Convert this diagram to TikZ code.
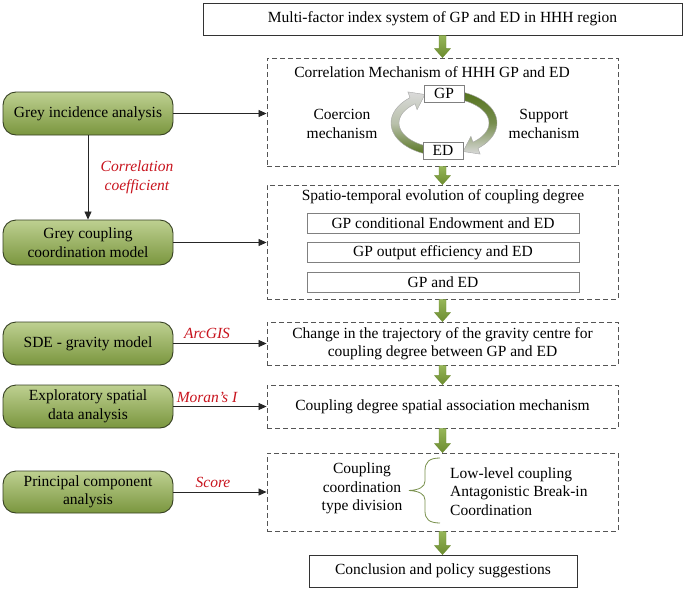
\documentclass[tikz,border=0pt]{standalone}
\usepackage{fontspec}
\setmainfont{Liberation Serif}
\usetikzlibrary{calc,arrows.meta}
\definecolor{gtop}{RGB}{190,208,145}
\definecolor{gbot}{RGB}{122,150,62}
\definecolor{gedge}{RGB}{55,65,35}
\definecolor{atop}{RGB}{150,182,88}
\definecolor{abot}{RGB}{108,140,48}
\definecolor{rdark}{RGB}{85,115,30}
\definecolor{rgrey}{RGB}{218,218,218}
\definecolor{lblred}{RGB}{200,20,30}
\definecolor{dashgray}{RGB}{85,85,85}
\newcommand\blockarr[2]{%
  \path[top color=atop, bottom color=abot, draw=abot, line width=0.4pt]
  let \p1=(#1.south), \p2=(#2.north) in
  (\x1-3.5pt,\y1) -- (\x1+3.5pt,\y1) -- (\x1+3.5pt,\y2+9pt) -- (\x1+8pt,\y2+9pt)
  -- (\x1,\y2) -- (\x1-8pt,\y2+9pt) -- (\x1-3.5pt,\y2+9pt) -- cycle;}
\begin{document}
\begin{tikzpicture}[x=1pt,y=-1pt,
  every node/.style={font=\fontsize{15.5}{18.5}\selectfont},
  gbox/.style={draw=gedge, line width=0.9pt, rounded corners=13pt,
    top color=gtop, bottom color=gbot, minimum width=170pt, align=center, inner sep=0pt},
  dbox/.style={draw=dashgray, line width=0.9pt, dash pattern=on 5pt off 3pt,
    minimum width=351pt, align=center, inner sep=0pt},
  sbox/.style={draw=black!80, line width=0.9pt, align=center, inner sep=0pt, fill=white},
  ibox/.style={draw=black!50, line width=0.7pt, minimum width=272pt, minimum height=20pt, inner sep=0pt, fill=white},
  lbl/.style={text=lblred, font=\fontsize{15.5}{18.5}\selectfont\itshape, align=center, inner sep=0pt},
  conn/.style={-{Triangle[length=8pt,width=7pt]}, line width=0.8pt, black!85}
]
\useasboundingbox (0,0) rectangle (685,589);

% top and bottom boxes
\node[sbox, minimum width=479pt, minimum height=32pt] (top) at (442.5,19) {Multi-factor index system of GP and ED in HHH region};
\node[sbox, minimum width=268pt, minimum height=32pt] (concl) at (443,571) {Conclusion and policy suggestions};

% dashed boxes
\node[dbox, minimum height=108pt] (b1) at (442.5,112) {};
\node[dbox, minimum height=114pt] (b2) at (442.5,242) {};
\node[dbox, minimum height=43pt] (b3) at (442.5,343.5) {Change in the trajectory of the gravity centre for\\coupling degree between GP and ED};
\node[dbox, minimum height=43pt] (b4) at (442.5,406.5) {Coupling degree spatial association mechanism};
\node[dbox, minimum height=78pt] (b5) at (442.5,492) {};

% box 1 content
\node[inner sep=0pt] (t1) at (432,72) {Correlation Mechanism of HHH GP and ED};
\node[align=center, inner sep=0pt] (coer) at (342,124) {Coercion\\mechanism};
\node[align=center, inner sep=0pt] (supp) at (544,124) {Support\\mechanism};
% ribbon arrows
\path[top color=rdark, bottom color=rgrey, middle color=rdark!75!rgrey, draw=gray!70, line width=0.4pt]
  plot[smooth, domain=-75:50, samples=30] ({444+53*cos(\x)},{123+33*sin(\x)})
  -- (480.1,154.1) -- (463.1,151.5) -- (470.9,136.3)
  -- plot[smooth, domain=50:-75, samples=30] ({444+45*cos(\x)},{123+25*sin(\x)}) -- cycle;
\path[top color=rgrey, bottom color=rdark, middle color=rgrey!75!rdark, draw=gray!70, line width=0.4pt]
  plot[smooth, domain=105:230, samples=30] ({444+53*cos(\x)},{123+33*sin(\x)})
  -- (407.9,91.9) -- (424.9,94.5) -- (417.1,109.7)
  -- plot[smooth, domain=230:105, samples=30] ({444+45*cos(\x)},{123+25*sin(\x)}) -- cycle;
\node[sbox, line width=0.7pt, draw=black!50, minimum width=40pt, minimum height=17pt] (gp) at (444,93.5) {GP};
\node[sbox, line width=0.7pt, draw=black!50, minimum width=40pt, minimum height=17pt] (ed) at (443,150.5) {ED};

% box 2 content
\node[inner sep=0pt] (t2) at (443,197) {Spatio-temporal evolution of coupling degree};
\node[ibox] (i1) at (443,223) {GP conditional Endowment and ED};
\node[ibox] (i2) at (443,252.5) {GP output efficiency and ED};
\node[ibox] (i3) at (443,282) {GP and ED};

% box 5 content
\node[align=center, inner sep=0pt] (ctype) at (362,488.5) {Coupling\\coordination\\type division};
\node[align=left, anchor=west, inner sep=0pt] (ctypes) at (450,491.5) {Low-level coupling\\Antagonistic Break-in\\Coordination};
\draw[rdark!80, line width=0.8pt]
  (440,458) .. controls (429,458) and (425,462) .. (425,471) -- (425,481)
  .. controls (425,487) and (419,490) .. (409,490.5)
  .. controls (419,491) and (425,494) .. (425,500) -- (425,511)
  .. controls (425,519) and (429,523) .. (440,523);

% green block arrows
\blockarr{top}{b1}
\blockarr{b1}{b2}
\blockarr{b2}{b3}
\blockarr{b3}{b4}
\blockarr{b4}{b5}
\blockarr{b5}{concl}

% left boxes
\node[gbox, minimum height=43pt] (gia) at (88,113.5) {Grey incidence analysis};
\node[gbox, minimum height=45pt] (gccm) at (88,242.5) {Grey coupling\\coordination model};
\node[gbox, minimum height=43pt] (sde) at (88,343.5) {SDE - gravity model};
\node[gbox, minimum height=43pt] (esda) at (88,406.5) {Exploratory spatial\\data analysis};
\node[gbox, minimum height=42pt] (pca) at (88,492) {Principal component\\analysis};

% connectors
\draw[conn] (gia.east) -- (gia.east -| b1.west);
\draw[conn] (gccm.east) -- (gccm.east -| b2.west);
\draw[conn] (sde.east) -- (sde.east -| b3.west);
\draw[conn] (esda.east) -- (esda.east -| b4.west);
\draw[conn] (pca.east) -- (pca.east -| b5.west);
\draw[conn] (gia.south) -- (gccm.north);

% labels
\node[lbl] (cc) at (137,177.5) {Correlation\\coefficient};
\node[lbl] (arc) at (207,333) {ArcGIS};
\node[lbl] (mor) at (207,397) {Moran’s I};
\node[lbl] (sco) at (213,482) {Score};
\end{tikzpicture}
\end{document}
